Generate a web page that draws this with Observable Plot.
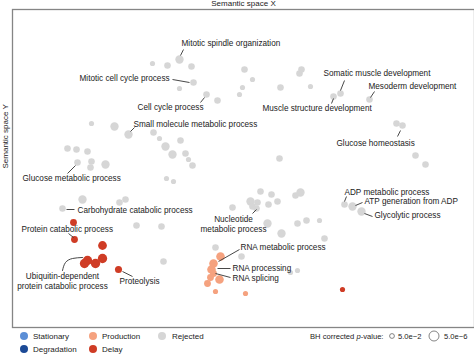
<!DOCTYPE html>
<html>
<head>
<meta charset="utf-8">
<script src="https://cdn.jsdelivr.net/npm/d3@7"></script>
<script src="https://cdn.jsdelivr.net/npm/@observablehq/plot@0.6"></script>
<style>
  body { margin: 0; background: #fff; font-family: "Liberation Sans", Arial, sans-serif; }
  #chart svg { display: block; overflow: visible; }
</style>
</head>
<body>
<div id="chart"></div>
<div id="legend"></div>
<script>
// ---- data (semantic space coordinates) ----
const rejectedX = [140,155,167,179,181,167,194,205,232,240,230,227,268,287,289,298,321,328,357,79,102,116,141,147,168,153,160,173,176,180,55,64,75,65,79,78,93,154,161,70,107,113,50,124,149,220,384,390,403,413,267,248,259,265,256,238,245,240,244,283,288,255,285,294,307,269,312,332,340,349,151,203,229,278,285];
const rejectedY = [264,262,268,261,245,239,233,227,258,248,240,233,240,254,258,241,231,234,228,204,201,193,195,189,187,181,173,174,168,162,179,178,176,165,166,160,163,149,146,128,125,128,119,102,101,120,204,202,172,163,169,136,133,126,123,126,125,121,119,132,135,104,104,107,107,94,89,123,121,116,66,80,71,55,57];
const rejectedP = [1.6,2.6,4.2,2.6,2.6,1.6,2.6,2.6,2.6,1.6,1.6,1.6,2.6,2.6,2.6,1.6,2.6,2.6,2.6,1.6,4.2,4.2,2.6,1.6,2.6,4.2,4.2,2.6,1.6,2.6,2.6,2.6,2.6,2.6,2.6,2.6,4.2,1.6,1.6,4.2,2.6,2.6,2.6,2.6,2.6,2.6,2.6,2.6,2.6,2.6,2.6,2.6,2.6,2.6,2.6,4.2,2.6,2.6,2.6,2.6,4.2,4.2,2.6,2.6,1.6,4.2,2.6,2.6,4.2,4.2,2.6,2.6,2.6,1.6,1.6];

const productionX = [208,201,199,201,198,195,207,203,233];
const productionY = [71,64,58,54,50,44,48,36,34];
const productionP = [4.4,4.4,4.4,2.8,2.8,2.8,4.4,1.6,1.6];

const delayX = [61,62,90,75,83,90,72,106,330];
const delayY = [105,88,82,67,64,69,64,58,38];
const delayP = [2.8,2.8,4.6,5.2,5.2,5.2,5.2,3.0,1.6];

const categories = ["Stationary", "Degradation", "Production", "Delay", "Rejected"];
const categoryColors = ["#5b8ed6", "#1c4a96", "#f5a27f", "#cf3c25", "#d6d6d6"];

const labelText = ["Mitotic spindle organization","Mitotic cell cycle process","Cell cycle process","Somatic muscle development","Mesoderm development","Muscle structure development","Small molecule metabolic process","Glucose homeostasis","Glucose metabolic process","ADP metabolic process","ATP generation from ADP","Carbohydrate catabolic process","Glycolytic process","Protein catabolic process","RNA metabolic process","RNA processing","RNA splicing","Proteolysis"];
const labelX = [169,67,125,311,356,250,121,324,10,332,352,65,362,9,228,220,220,107];
const labelY = [284,249,220,254,241,219,203,184,149,135,126,117,112,98,80,59,49,46];

const centredLabelText = ["Nucleotide\nmetabolic process", "Ubiquitin-dependent\nprotein catabolic process"];
const centredLabelX = [221, 50];
const centredLabelY = [104, 47];

const leaderX1 = [168,160,188,332,319,362,118,385,55,332,343,352,54,240,56,206,205,203,110];
const leaderY1 = [272,248,225,247,224,236,196,191,154,126,122,114,118,114,94,66,59,54,56];
const leaderX2 = [171,177,192,328,321,358,122,388,63,334,350,360,62,244,61,227,218,218,120];
const leaderY2 = [278,245,230,237,229,230,200,197,162,131,125,111,118,118,90,78,59,50,51];

const curveX = [50,53,60,70];
const curveY = [57,65,69,70];

const pLegendLabels = ["5.0e\u22122", "5.0e\u22126"];
const pLegendValues = [1.3, 5.3];

// ---- build tables ----
const mk = (xs, ys, ps, cat) => xs.map((x, i) => ({x, y: ys[i], p: ps[i], cat}));
const points = [
  ...mk(rejectedX, rejectedY, rejectedP, "Rejected"),
  ...mk(productionX, productionY, productionP, "Production"),
  ...mk(delayX, delayY, delayP, "Delay")
];
const labels = labelText.map((t, i) => ({t, x: labelX[i], y: labelY[i]}));
const centred = centredLabelText.map((t, i) => ({t, x: centredLabelX[i], y: centredLabelY[i]}));
const leaders = leaderX1.map((x1, i) => ({x1, y1: leaderY1[i], x2: leaderX2[i], y2: leaderY2[i]}));
const curve = curveX.map((x, i) => ({x, y: curveY[i]}));

const FONT = "Liberation Sans, Arial, sans-serif";
const rScale = {type: "sqrt", domain: [0, 6], range: [0, 5]};

const chart = Plot.plot({
  width: 474,
  height: 330,
  marginTop: 9,
  marginLeft: 12,
  marginRight: 0,
  marginBottom: 3,
  style: {fontFamily: FONT, fontSize: "8.2px", color: "#222", background: "white"},
  x: {domain: [0, 462], axis: null},
  y: {domain: [0, 318], axis: null},
  r: rScale,
  color: {domain: categories, range: categoryColors},
  marks: [
    Plot.dot(points, {x: "x", y: "y", r: "p", fill: "cat", stroke: null}),
    Plot.link(leaders, {x1: "x1", y1: "y1", x2: "x2", y2: "y2", stroke: "#333", strokeWidth: 0.9}),
    Plot.line(curve, {x: "x", y: "y", curve: "natural", stroke: "#333", strokeWidth: 0.9}),
    Plot.text(labels, {x: "x", y: "y", text: "t", textAnchor: "start", fill: "#222", fontSize: 8.2}),
    Plot.text(centred, {x: "x", y: "y", text: "t", textAnchor: "middle", lineAnchor: "middle", lineHeight: 1.22, fill: "#222", fontSize: 8.2}),
    Plot.frame({stroke: "#858585", strokeWidth: 1.3}),
    Plot.text(["Semantic space X"], {frameAnchor: "top", dy: -6, lineAnchor: "middle", fill: "#222", fontSize: 8}),
    Plot.text(["Semantic space Y"], {frameAnchor: "left", dx: -7, rotate: -90, lineAnchor: "middle", fill: "#222", fontSize: 8})
  ]
});
document.getElementById("chart").appendChild(chart);

// ---- legend below the SVG ----
const rPx = d3.scaleSqrt().domain(rScale.domain).range(rScale.range);
const leg = d3.select("#legend").append("svg")
  .attr("width", 474).attr("height", 24)
  .style("display", "block")
  .style("font-family", FONT).style("font-size", "8px");
const legPos = {
  "Stationary": [24, 6], "Degradation": [24, 19],
  "Production": [93, 6], "Delay": [93, 19], "Rejected": [162, 6]
};
categories.forEach((c, i) => {
  const [cx, cy] = legPos[c];
  leg.append("circle").attr("cx", cx).attr("cy", cy).attr("r", 4).attr("fill", categoryColors[i]);
  leg.append("text").attr("x", c === "Rejected" ? cx + 10 : cx + 9).attr("y", cy).attr("dy", "0.35em").attr("fill", "#222").text(c);
});
const bh = leg.append("text").attr("x", 310).attr("y", 6).attr("dy", "0.35em")
  .attr("fill", "#222").style("font-size", "7.6px");
bh.append("tspan").text("BH corrected ");
bh.append("tspan").attr("font-style", "italic").text("p");
bh.append("tspan").text("-value:");
const pPos = [[392, 398], [434, 444]];
pLegendValues.forEach((v, i) => {
  leg.append("circle").attr("cx", pPos[i][0]).attr("cy", 6).attr("r", i === 0 ? 2.4 : 5)
    .attr("fill", "none").attr("stroke", "#666").attr("stroke-width", 0.8);
  leg.append("text").attr("x", pPos[i][1]).attr("y", 6).attr("dy", "0.35em")
    .attr("fill", "#222").style("font-size", "7.6px").text(pLegendLabels[i]);
});
</script>
</body>
</html>
